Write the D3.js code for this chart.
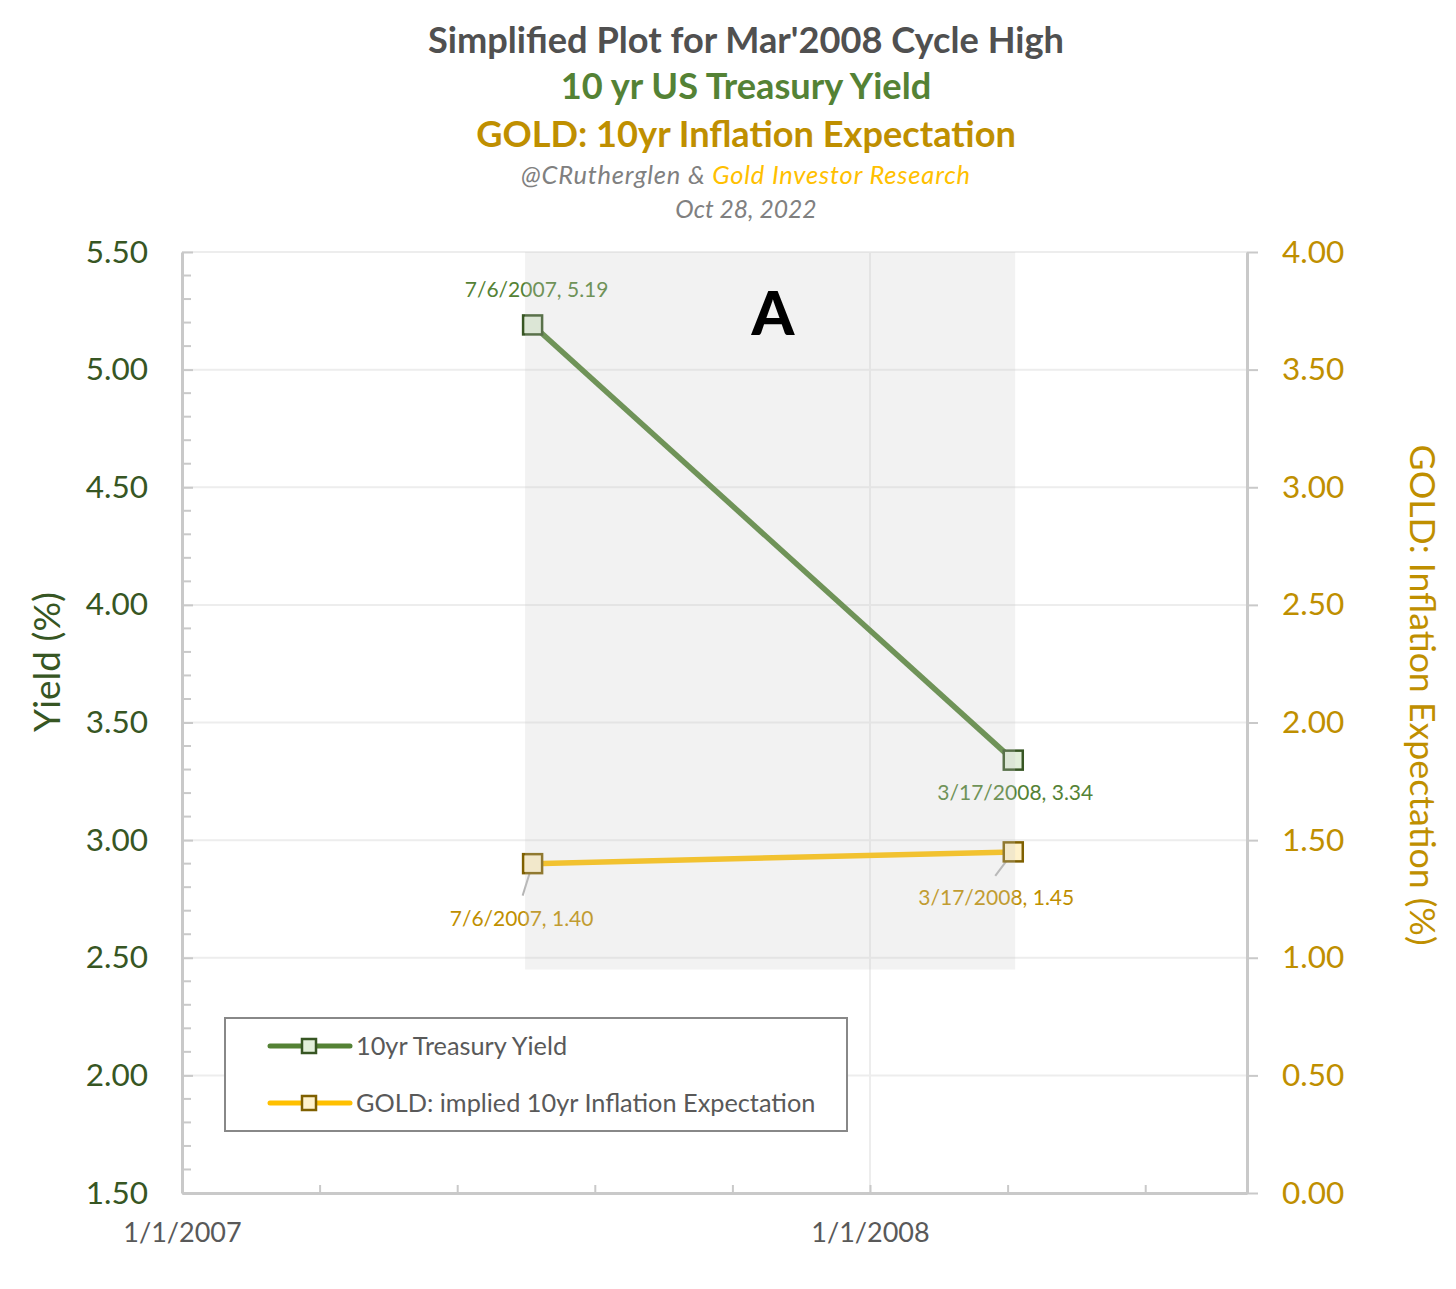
<!DOCTYPE html>
<html><head><meta charset="utf-8">
<script src="https://cdn.jsdelivr.net/npm/d3@7"></script>
<style>body{margin:0;background:#fff;} svg{display:block;font-family:Lato, "Open Sans", sans-serif;}</style>
</head><body><svg id="c" width="1456" height="1289"></svg>
<script>
// ---------- data ----------
const seriesNames = ["10yr Treasury Yield", "GOLD: implied 10yr Inflation Expectation"];
const pointDates = ["2007-07-06", "2008-03-17"];
const pointDateLabels = ["7/6/2007", "3/17/2008"];
const treasuryYield = [5.19, 3.34];
const goldInflation = [1.40, 1.45];
const leftTicks = [1.5, 2.0, 2.5, 3.0, 3.5, 4.0, 4.5, 5.0, 5.5];
const rightTicks = [0.0, 0.5, 1.0, 1.5, 2.0, 2.5, 3.0, 3.5, 4.0];
const xTickLabels = ["1/1/2007", "1/1/2008"];
const xDomain = ["2007-01-01", "2008-07-19"];
const shadeDates = ["2007-07-02", "2008-03-18"];
const shadeYield = [5.5, 2.45];
const titleLines = ["Simplified Plot for Mar'2008 Cycle High", "10 yr US Treasury Yield", "GOLD: 10yr Inflation Expectation"];
const creditParts = ["@CRutherglen & ", "Gold Investor Research"];
const dateLine = "Oct 28, 2022";
const marker = "A";

// ---------- setup ----------
const parse = d3.utcParse("%Y-%m-%d");
const svg = d3.select("#c");
const L = 182, R = 1247, T = 252, B = 1193;
const x = d3.scaleUtc().domain(xDomain.map(parse)).range([L, R]);
const yL = d3.scaleLinear().domain([1.5, 5.5]).range([B, T]);
const yR = d3.scaleLinear().domain([0, 4]).range([B, T]);

const cGreen = "#548235", cGreenDark = "#375623", cGold = "#BF8F00", cGoldLine = "#FFC000";
const axisCol = "#C9C9C9", gridCol = "#EDEDED";

// titles
const tcol = ["#505050", cGreen, cGold];
const tY = [53, 99, 147];
titleLines.forEach((t, i) => {
  svg.append("text").attr("x", 746).attr("y", tY[i]).attr("text-anchor", "middle")
    .attr("font-size", 36.2).attr("font-weight", 700).attr("fill", tcol[i]).text(t);
});
const cr = svg.append("text").attr("x", 746).attr("y", 184).attr("text-anchor", "middle")
  .attr("font-size", 25.5).attr("font-style", "italic").attr("letter-spacing", 0.8);
cr.append("tspan").attr("fill", "#808080").text(creditParts[0]);
cr.append("tspan").attr("fill", "#FFC000").text(creditParts[1]);
svg.append("text").attr("x", 746).attr("y", 218).attr("text-anchor", "middle")
  .attr("font-size", 24.7).attr("font-style", "italic").attr("fill", "#808080").text(dateLine);

// x tick dates every 73 days
const xStart = parse(xDomain[0]);
const xTickVals = d3.range(0, 8).map(k => d3.utcDay.offset(xStart, k * 73));
const fmt = d3.utcFormat("%-m/%-d/%Y");

// gridlines
const g = svg.append("g");
g.selectAll(".hg").data(leftTicks.slice(1)).join("line")
  .attr("x1", L).attr("x2", R).attr("y1", d => yL(d)).attr("y2", d => yL(d))
  .attr("stroke", gridCol).attr("stroke-width", 2);
g.selectAll(".vg").data(xTickLabels.slice(1)).join("line")
  .attr("x1", d => x(d3.utcParse("%m/%d/%Y")(d))).attr("x2", d => x(d3.utcParse("%m/%d/%Y")(d)))
  .attr("y1", T).attr("y2", B).attr("stroke", gridCol).attr("stroke-width", 2);

// left axis minor ticks
const minor = d3.range(15, 56).map(v => v / 10).filter(v => Math.abs(v * 2 - Math.round(v * 2)) > 1e-6);
svg.append("g").selectAll("line").data(minor).join("line")
  .attr("x1", L).attr("x2", L + 9).attr("y1", d => yL(d)).attr("y2", d => yL(d))
  .attr("stroke", axisCol).attr("stroke-width", 2);

// left axis
const ax = svg.append("g").attr("transform", `translate(${L},0)`)
  .call(d3.axisLeft(yL).tickValues(leftTicks).tickFormat(d3.format(".2f")).tickSizeInner(-11).tickSizeOuter(0).tickPadding(34));
ax.select(".domain").attr("stroke", axisCol).attr("stroke-width", 3);
ax.selectAll(".tick line").attr("stroke", axisCol).attr("stroke-width", 2);
ax.selectAll(".tick text").attr("font-size", 31.5).attr("fill", cGreenDark).attr("font-family", "Lato");

// right axis
const ar = svg.append("g").attr("transform", `translate(${R},0)`)
  .call(d3.axisRight(yR).tickValues(rightTicks).tickFormat(d3.format(".2f")).tickSizeInner(11).tickSizeOuter(0).tickPadding(24));
ar.select(".domain").attr("stroke", axisCol).attr("stroke-width", 3);
ar.selectAll(".tick line").attr("stroke", axisCol).attr("stroke-width", 2);
ar.selectAll(".tick text").attr("font-size", 31.5).attr("fill", cGold).attr("font-family", "Lato");

// bottom axis
const ab = svg.append("g").attr("transform", `translate(0,${B})`)
  .call(d3.axisBottom(x).tickValues(xTickVals)
    .tickFormat(d => { const s = fmt(d); return xTickLabels.includes(s) ? s : ""; })
    .tickSizeInner(-8).tickSizeOuter(0).tickPadding(30));
ab.select(".domain").attr("stroke", axisCol).attr("stroke-width", 3);
ab.selectAll(".tick line").attr("stroke", axisCol).attr("stroke-width", 2);
ab.selectAll(".tick text").attr("font-size", 27).attr("fill", "#595959").attr("font-family", "Lato");

// axis titles
svg.append("text").attr("transform", "translate(45,662) rotate(-90)").attr("text-anchor", "middle")
  .attr("dominant-baseline", "central").attr("font-size", 37).attr("fill", cGreenDark).text("Yield (%)");
svg.append("text").attr("transform", "translate(1423,695) rotate(90)").attr("text-anchor", "middle")
  .attr("dominant-baseline", "central").attr("font-size", 35.7).attr("fill", cGold).text("GOLD: Inflation Expectation (%)");

// series
const ptsT = pointDates.map((d, i) => ({ d: parse(d), v: treasuryYield[i], lab: pointDateLabels[i] }));
const ptsG = pointDates.map((d, i) => ({ d: parse(d), v: goldInflation[i], lab: pointDateLabels[i] }));
const lineT = d3.line().x(p => x(p.d)).y(p => yL(p.v));
const lineG = d3.line().x(p => x(p.d)).y(p => yR(p.v));
svg.append("path").attr("d", lineT(ptsT)).attr("fill", "none").attr("stroke", cGreen).attr("stroke-width", 5.5);
svg.append("path").attr("d", lineG(ptsG)).attr("fill", "none").attr("stroke", cGoldLine).attr("stroke-width", 5.5);

// leader lines for gold labels
const leadOff = [[-10, 32], [-18, 24]];
ptsG.forEach((p, i) => {
  svg.append("line").attr("x1", x(p.d)).attr("y1", yR(p.v))
    .attr("x2", x(p.d) + leadOff[i][0]).attr("y2", yR(p.v) + leadOff[i][1])
    .attr("stroke", "#B5B5B5").attr("stroke-width", 2);
});

const ms = 19;
svg.append("g").selectAll("rect").data(ptsT).join("rect")
  .attr("x", p => x(p.d) - ms / 2).attr("y", p => yL(p.v) - ms / 2).attr("width", ms).attr("height", ms)
  .attr("fill", "#E2EFDA").attr("stroke", cGreenDark).attr("stroke-width", 2.5);
svg.append("g").selectAll("rect").data(ptsG).join("rect")
  .attr("x", p => x(p.d) - ms / 2).attr("y", p => yR(p.v) - ms / 2).attr("width", ms).attr("height", ms)
  .attr("fill", "#FFF2CC").attr("stroke", "#7F6000").attr("stroke-width", 2.5);

// data labels
const labT = [[4, -28], [2, 40]];
ptsT.forEach((p, i) => {
  svg.append("text").attr("x", x(p.d) + labT[i][0]).attr("y", yL(p.v) + labT[i][1]).attr("text-anchor", "middle")
    .attr("font-size", 21).attr("fill", cGreen).text(`${p.lab}, ${p.v.toFixed(2)}`);
});
const labG = [[-11, 62], [-17, 53]];
ptsG.forEach((p, i) => {
  svg.append("text").attr("x", x(p.d) + labG[i][0]).attr("y", yR(p.v) + labG[i][1]).attr("text-anchor", "middle")
    .attr("font-size", 21).attr("fill", cGold).text(`${p.lab}, ${p.v.toFixed(2)}`);
});

// shaded overlay
svg.append("rect").attr("x", x(parse(shadeDates[0]))).attr("y", yL(shadeYield[0]))
  .attr("width", x(parse(shadeDates[1])) - x(parse(shadeDates[0])))
  .attr("height", yL(shadeYield[1]) - yL(shadeYield[0]))
  .attr("fill", "rgb(200,200,200)").attr("fill-opacity", 0.24);

svg.append("text").attr("x", 773).attr("y", 335).attr("text-anchor", "middle")
  .attr("font-size", 61).attr("font-weight", 900).attr("fill", "#000").text(marker);

// legend
const lg = svg.append("g");
lg.append("rect").attr("x", 225).attr("y", 1018).attr("width", 622).attr("height", 113)
  .attr("fill", "#fff").attr("stroke", "#888").attr("stroke-width", 2);
const legCols = [[cGreen, "#E2EFDA", cGreenDark], [cGoldLine, "#FFF2CC", "#7F6000"]];
seriesNames.forEach((n, i) => {
  const yy = 1046 + i * 57;
  lg.append("line").attr("x1", 270).attr("x2", 350).attr("y1", yy).attr("y2", yy)
    .attr("stroke", legCols[i][0]).attr("stroke-width", 5).attr("stroke-linecap", "round");
  lg.append("rect").attr("x", 302).attr("y", yy - 7).attr("width", 14).attr("height", 14)
    .attr("fill", legCols[i][1]).attr("stroke", legCols[i][2]).attr("stroke-width", 2.5);
  lg.append("text").attr("x", 356).attr("y", yy + 9).attr("font-size", 25.3).attr("fill", "#595959").text(n);
});
</script></body></html>
